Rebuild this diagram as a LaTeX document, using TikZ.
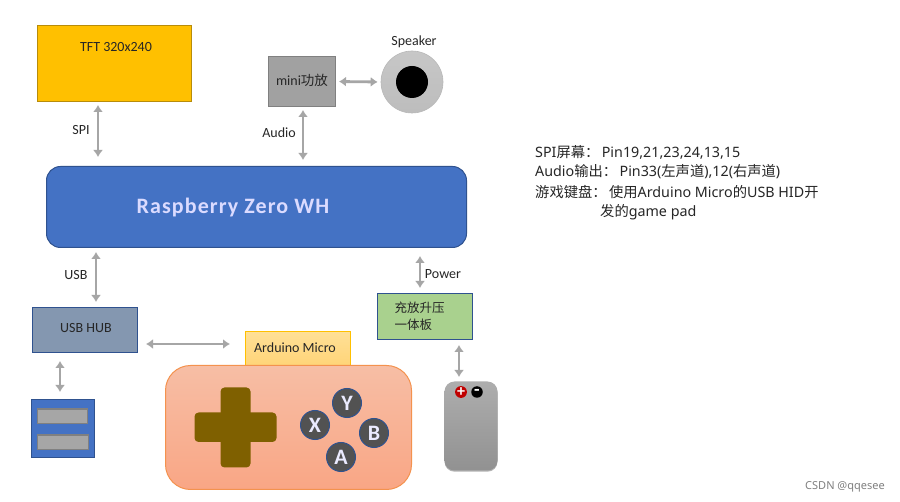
\documentclass[tikz,border=0pt]{standalone}
\usepackage{fontspec}
\setmainfont{Carlito}
\newfontfamily\cjk{Noto Sans CJK SC}
\newfontfamily\notes{Noto Sans}
\newfontfamily\notescjk{Noto Sans CJK SC}[Scale=1.0]
\usetikzlibrary{arrows.meta,shadows,shadings}
\definecolor{linkgray}{HTML}{A6A6A6}
\definecolor{navy}{HTML}{2F528F}
\tikzset{
  link/.style={draw=linkgray,line width=2.8pt,{Latex[length=7pt,width=10pt]}-{Latex[length=7pt,width=10pt]}},
  lab/.style={font=\fontsize{14}{16}\selectfont,text=black!85,inner sep=0pt},
  box/.style={draw=navy,line width=1pt,inner sep=0pt,anchor=north west},
  btn/.style={circle,draw=navy,line width=1pt,fill=black!68,minimum size=29pt,inner sep=0pt,text=blue!8!white,font=\bfseries\fontsize{22}{22}\selectfont},
  slot/.style={draw=black!50,line width=1.2pt,fill=linkgray,inner sep=0pt,anchor=north west},
  note/.style={font=\notes\fontsize{14.3}{16}\selectfont,text=black!85,anchor=west,inner sep=0pt},
  sz/.style 2 args={minimum width=#1pt,minimum height=#2pt}
}
\begin{document}
\begin{tikzpicture}[x=1pt,y=-1pt]
\useasboundingbox[fill=white] (0,0) rectangle (900,502);
% boxes
\node[box,draw={rgb,255:red,184;green,140;blue,10},fill={rgb,255:red,255;green,192;blue,0},sz={154}{76}] (tft) at (37,25) {};
\node[lab] (tftt) at (116,47) {TFT 320x240};
\node[box,draw=black!50,fill=black!37,sz={67}{50}] (amp) at (268,56) {};
\node[lab] at (302,80) {mini{\cjk\fontsize{13.5}{14}\selectfont 功放}};
\node[circle,draw=black!28,line width=.6pt,inner sep=0pt,minimum size=62pt,top color=black!22,bottom color=black!26] (spk) at (412,82) {};
\node[circle,fill=black,inner sep=0pt,minimum size=32pt] (cone) at (spk) {};
\node[lab] at (414,41.5) {Speaker};
\node[box,rounded corners=14pt,fill={rgb,255:red,68;green,114;blue,196},sz={420}{81}] (rpi) at (46,166) {};
\node[font=\bfseries\fontsize{22}{22}\selectfont,text=blue!14!white,inner sep=0pt] at (233,207.5) {\addfontfeature{LetterSpace=5}Raspberry Zero WH};
\node[box,fill={rgb,255:red,132;green,151;blue,176},sz={105}{45}] (hub) at (32,307) {};
\node[lab] at (86,328) {USB HUB};
\node[box,fill={rgb,255:red,68;green,114;blue,196},sz={63}{58}] (usb) at (31,399) {};
\node[slot,sz={50.5}{14.5}] (s1) at (36.5,408.5) {};
\node[slot,sz={51}{14.5}] (s2) at (37,434.5) {};
\node[box,draw={rgb,255:red,255;green,192;blue,0},top color={rgb,255:red,255;green,224;blue,150},bottom color={rgb,255:red,255;green,212;blue,120},sz={105}{34}] (ard) at (245,331) {};
\node[lab] at (295,348) {Arduino Micro};
\node[box,draw={rgb,255:red,244;green,146;blue,78},rounded corners=25pt,top color={rgb,255:red,247;green,190;blue,165},bottom color={rgb,255:red,249;green,166;blue,133},sz={246}{124}] (pad) at (165,365) {};
\node[box,draw=none,fill={rgb,255:red,127;green,96;blue,0},rounded corners=4pt,sz={30}{80}] (dv) at (220,387) {};
\node[box,draw=none,fill={rgb,255:red,127;green,96;blue,0},rounded corners=4pt,sz={82}{29.5}] (dh) at (194,412) {};
\node[btn] (by) at (347,403) {Y};
\node[btn] (bx) at (315,425) {X};
\node[btn] (bb) at (374,433) {B};
\node[btn] (ba) at (341,457) {A};
\node[box,draw=navy,fill={rgb,255:red,169;green,209;blue,142},sz={95}{46}] (chg) at (377,293) {};
\node[inner sep=0pt,anchor=west,font=\cjk\fontsize{12.5}{14}\selectfont,text=black!85] at (394.5,308) {充放升压};
\node[inner sep=0pt,anchor=west,font=\cjk\fontsize{12.5}{14}\selectfont,text=black!85] at (394.5,325) {一体板};
\node[box,draw=none,rounded corners=10pt,top color=black!32,bottom color=black!43,sz={53}{89},drop shadow={shadow xshift=0pt,shadow yshift=-1.2pt,opacity=.3,fill=black}] (bat) at (444,381) {};
\node[circle,fill={rgb,255:red,192;green,0;blue,0},minimum size=11.5pt,inner sep=0pt,text=white,font=\bfseries\fontsize{16}{16}\selectfont] (plus) at (461,392) {+};
\node[circle,fill=black,minimum size=11.5pt,inner sep=0pt,text=white,font=\bfseries\fontsize{18}{18}\selectfont] (minus) at (477,392) {-};
% connector columns
\coordinate (xspi) at (98,0);
\coordinate (xaud) at (303,0);
\coordinate (xusb) at (96,0);
\coordinate (xpow) at (420,0);
\coordinate (xhs) at (60,0);
\coordinate (xbat) at (459,0);
\coordinate (hubr) at (137,344);
\coordinate (ardl) at (245,344);
% connectors
\draw[link,shorten <=3pt,shorten >=9pt] (tft.south -| xspi) -- (rpi.north -| xspi);
\draw[link,shorten <=3pt,shorten >=6pt] (amp.south -| xaud) -- (rpi.north -| xaud);
\draw[link,shorten <=3pt,shorten >=3pt] (amp.east) -- (spk.west);
\draw[link,shorten <=4pt,shorten >=5pt] (rpi.south -| xusb) -- (hub.north -| xusb);
\draw[link,shorten <=8pt,shorten >=5pt] (rpi.south -| xpow) -- (chg.north -| xpow);
\draw[link,shorten <=9pt,shorten >=15pt] (hubr) -- (ardl);
\draw[link,shorten <=8pt,shorten >=7pt] (hub.south -| xhs) -- (usb.north -| xhs);
\draw[link,shorten <=5pt,shorten >=4pt] (chg.south -| xbat) -- (bat.north -| xbat);
% labels
\node[lab] at (81,130) {SPI};
\node[lab] at (279,133) {Audio};
\node[lab] at (76,275) {USB};
\node[lab] at (443,274) {Power};
% notes
\node[note] (n1) at (535,152) {SPI{\notescjk 屏幕：}\,Pin19,21,23,24,13,15};
\node[note] (n2) at (535,172) {Audio{\notescjk 输出：}\,Pin33({\notescjk 左声道}),12({\notescjk 右声道})};
\node[note] (n3) at (535,192) {{\notescjk 游戏键盘：}\,{\notescjk 使用}Arduino Micro{\notescjk 的}USB HID{\notescjk 开}};
\node[note] (n4) at (600,212) {{\notescjk 发的}game pad};
\node[font=\notes\fontsize{11}{12}\selectfont,text=black!50,inner sep=0pt] (wm) at (845,487) {CSDN @qqesee};
\end{tikzpicture}
\end{document}
